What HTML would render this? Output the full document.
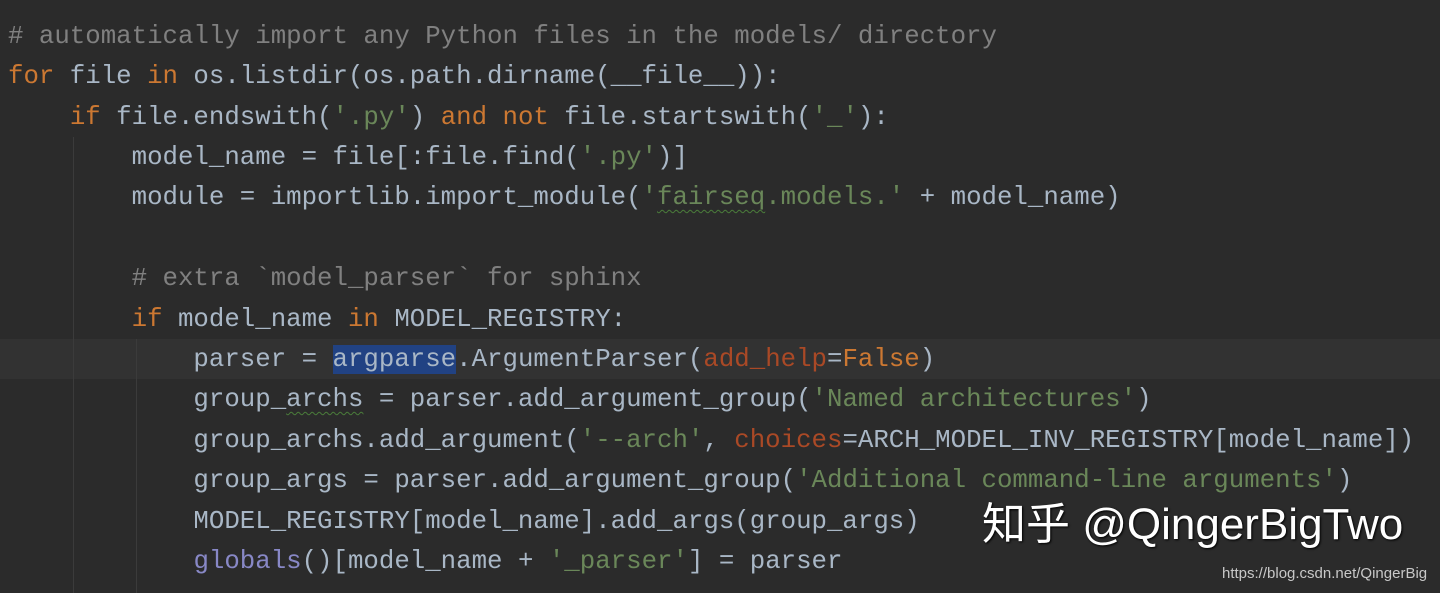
<!DOCTYPE html>
<html><head><meta charset="utf-8"><style>
body{margin:0;width:1440px;height:593px;background:#2b2b2b;overflow:hidden;position:relative;font-family:"Liberation Mono",monospace;}
.l{position:absolute;left:8px;height:40px;line-height:40px;font-size:25.75px;color:#a9b7c6;white-space:pre;margin-top:2px}
.k{color:#cc7832}.s{color:#6a8759}.c{color:#808080}.p{color:#aa4926}.g{color:#8888c6}
.sel{background:#214283}
.w{text-decoration:underline wavy #4a7d3a;text-underline-offset:5px;text-decoration-thickness:1px}
.hl{position:absolute;left:0;top:339px;width:1440px;height:40px;background:#323232}
.guide{position:absolute;width:1px;background:#3b3b3b}
</style></head><body>
<div class="hl"></div>
<div class="guide" style="left:73px;top:137px;height:456px"></div>
<div class="guide" style="left:136px;top:339px;height:254px"></div>
<div class="l" style="top:15px"><span class="c"># automatically import any Python files in the models/ directory</span></div>
<div class="l" style="top:55px"><span class="k">for</span> file <span class="k">in</span> os.listdir(os.path.dirname(__file__)):</div>
<div class="l" style="top:96px">    <span class="k">if</span> file.endswith(<span class="s">'.py'</span>) <span class="k">and not</span> file.startswith(<span class="s">'_'</span>):</div>
<div class="l" style="top:136px">        model_name = file[:file.find(<span class="s">'.py'</span>)]</div>
<div class="l" style="top:176px">        module = importlib.import_module(<span class="s">'<span class="w">fairseq</span>.models.'</span> + model_name)</div>
<div class="l" style="top:257px">        <span class="c"># extra `model_parser` for sphinx</span></div>
<div class="l" style="top:298px">        <span class="k">if</span> model_name <span class="k">in</span> MODEL_REGISTRY:</div>
<div class="l" style="top:338px">            parser = <span class="sel">argparse</span>.ArgumentParser(<span class="p">add_help</span>=<span class="k">False</span>)</div>
<div class="l" style="top:378px">            group_<span class="w">archs</span> = parser.add_argument_group(<span class="s">'Named architectures'</span>)</div>
<div class="l" style="top:419px">            group_archs.add_argument(<span class="s">'--arch'</span>, <span class="p">choices</span>=ARCH_MODEL_INV_REGISTRY[model_name])</div>
<div class="l" style="top:459px">            group_args = parser.add_argument_group(<span class="s">'Additional command-line arguments'</span>)</div>
<div class="l" style="top:500px">            MODEL_REGISTRY[model_name].add_args(group_args)</div>
<div class="l" style="top:540px">            <span class="g">globals</span>()[model_name + <span class="s">'_parser'</span>] = parser</div>
<div style="position:absolute;left:982px;top:497px;font-family:'Liberation Sans','Noto Sans CJK SC',sans-serif;font-size:44px;color:#fff;line-height:56px;white-space:nowrap;text-shadow:1px 1px 2px #000">知乎 @QingerBigTwo</div>
<div style="position:absolute;left:1222px;top:564px;font-family:'Liberation Sans',sans-serif;font-size:15px;color:#c8c8c8;line-height:20px;white-space:nowrap">https://blog.csdn.net/QingerBig</div>
</body></html>
